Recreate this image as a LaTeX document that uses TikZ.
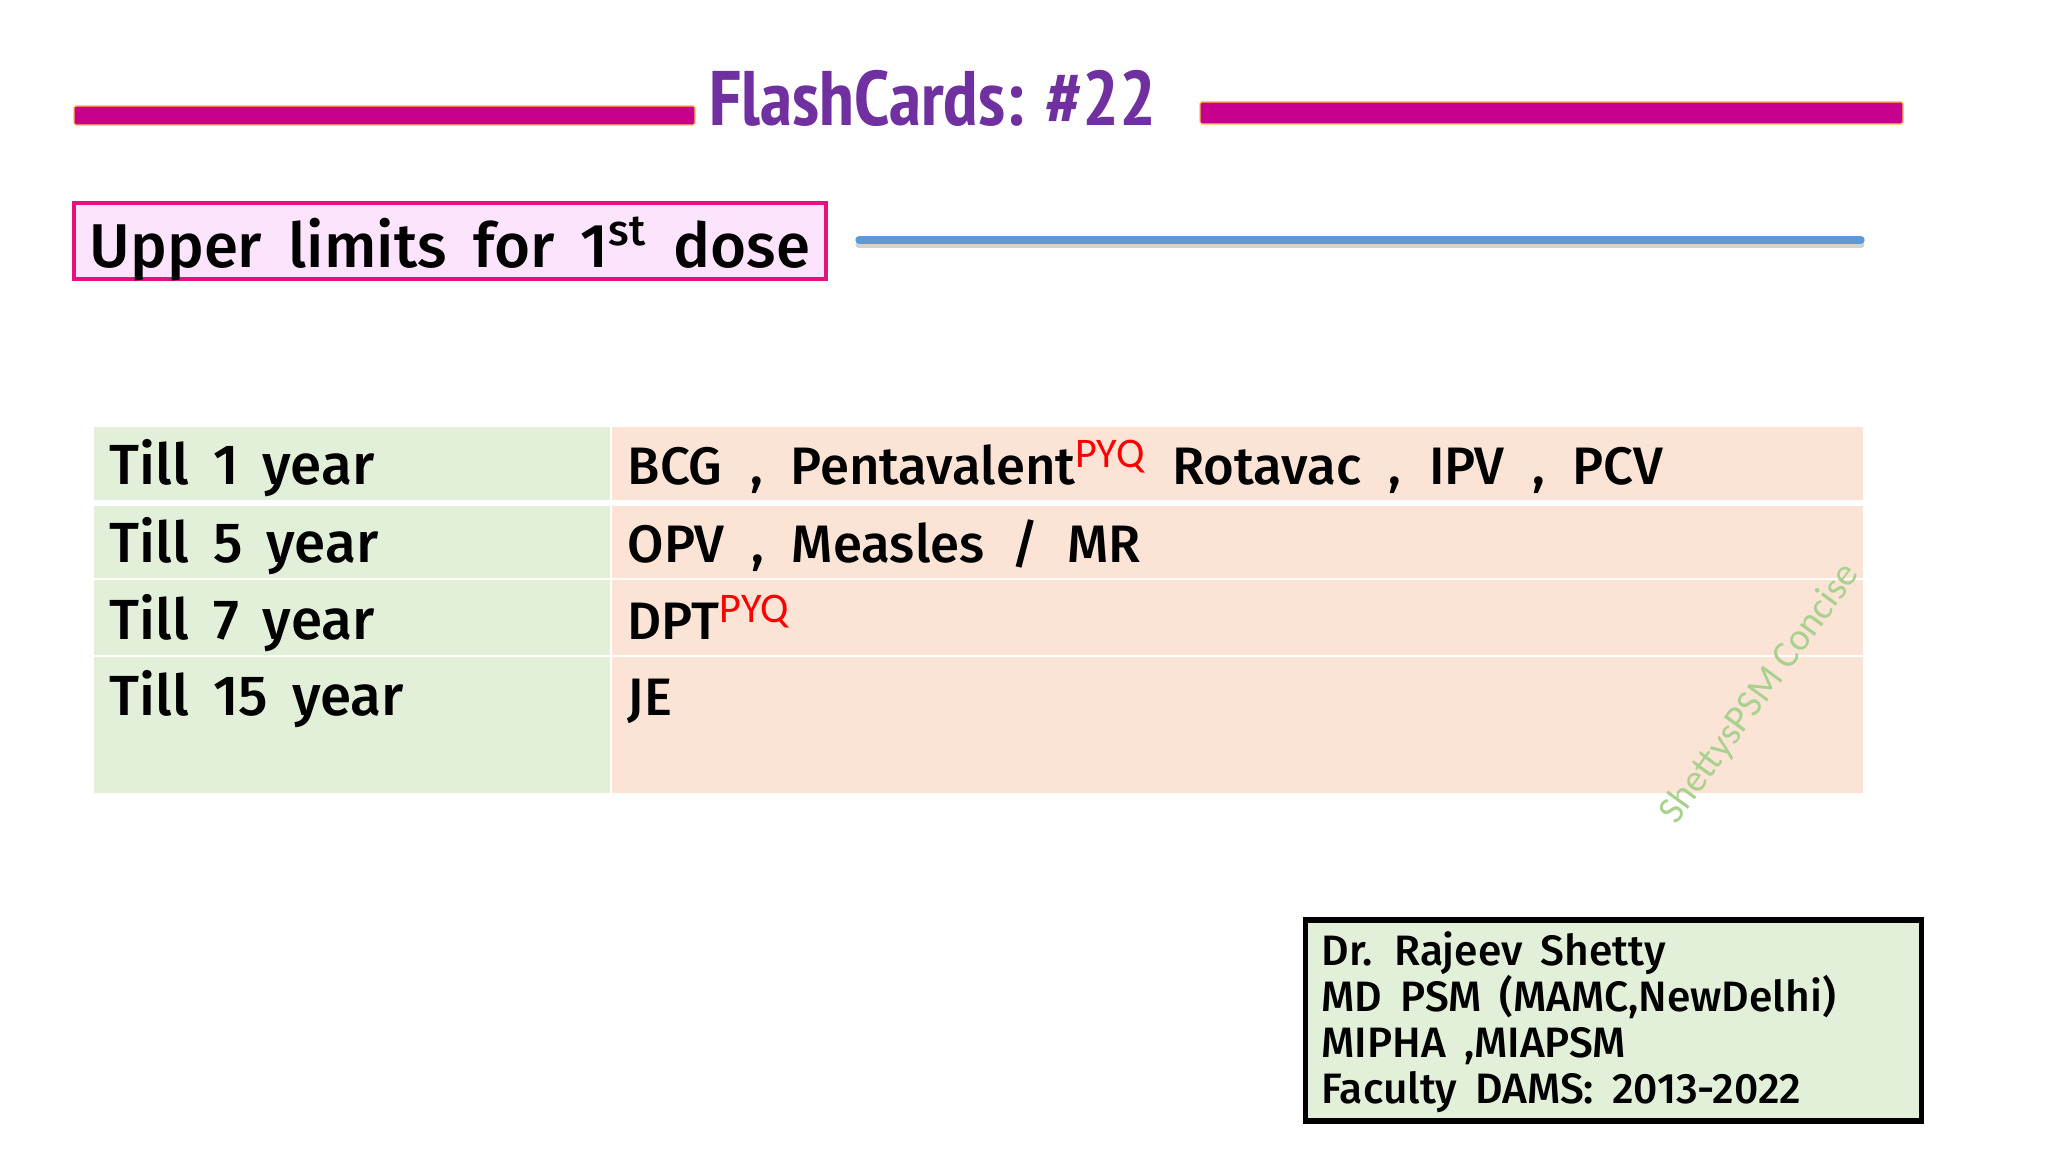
\documentclass[tikz,border=0pt]{standalone}
\usepackage{fontspec}
\usepackage{xcolor}
\setmainfont[WordSpace=1.7]{Fira Sans Medium}
\newfontfamily\titlefont{PT Sans Narrow Bold}
\newfontfamily\pyqfont{Carlito}
\newfontfamily\vacfont[WordSpace=2.1]{Fira Sans Medium}
\definecolor{barpink}{HTML}{C8008E}
\definecolor{baredge}{HTML}{FFC04D}
\definecolor{headpink}{HTML}{E6117F}
\definecolor{headfill}{HTML}{FCE4FC}
\definecolor{linkblue}{HTML}{5B9BD5}
\definecolor{cellgreen}{HTML}{E2EFD9}
\definecolor{cellpeach}{HTML}{FBE4D5}
\definecolor{titlepurple}{HTML}{7030A0}
\definecolor{markgreen}{HTML}{A9D18E}
\newcommand{\pyq}{\raisebox{5pt}{\pyqfont\fontsize{12}{14}\selectfont\color{red}PYQ}}
\tikzset{
  topbar/.style={fill=barpink, draw=baredge, line width=.3pt, rounded corners=.5pt},
  cell/.style={anchor=base west, font=\fontsize{16.1}{19}\selectfont, inner sep=0pt},
  vaccell/.style={anchor=base west, font=\vacfont\fontsize{15}{18}\selectfont, inner sep=0pt},
  credit/.style={anchor=base west, font=\fontsize{12.1}{14}\selectfont, inner sep=0pt},
}
\begin{document}
\begin{tikzpicture}
   \useasboundingbox (0,0) rectangle (20.48,11.52);
   % title row
   \draw[topbar] (0.74,10.27) rectangle (6.95,10.46);
   \draw[topbar] (12.00,10.28) rectangle (19.03,10.50);
   \node[text=titlepurple, font=\titlefont\fontsize{22}{26}\selectfont] (title) at (9.33,10.54) {FlashCards: \#22};

   % heading box
   \node[draw=headpink, fill=headfill, line width=.9pt, minimum width=7.52cm, minimum height=.76cm, inner sep=0pt] (head) at (4.50,9.11) {};
   \node[cell, font=\fontsize{17.6}{20}\selectfont] (headtext) at (0.89,8.84) {Upper limits for 1\textsuperscript{st} dose};
   \draw[gray!35, line width=2pt, line cap=round] (8.59,9.07) -- (18.61,9.07);
   \draw[linkblue, line width=2.1pt, line cap=round] (8.59,9.12) -- (18.61,9.12);

   % table
   \fill[cellgreen] (0.94,6.52) rectangle (6.10,7.25);
   \fill[cellgreen] (0.94,5.74) rectangle (6.10,6.46);
   \fill[cellgreen] (0.94,4.97) rectangle (6.10,5.72);
   \fill[cellgreen] (0.94,3.59) rectangle (6.10,4.95);
   \fill[cellpeach] (6.12,6.52) rectangle (18.63,7.25);
   \fill[cellpeach] (6.12,5.74) rectangle (18.63,6.46);
   \fill[cellpeach] (6.12,4.97) rectangle (18.63,5.72);
   \fill[cellpeach] (6.12,3.59) rectangle (18.63,4.95);

   \node[cell] (till1) at (1.09,6.67) {Till 1 year};
   \node[cell] (till5) at (1.09,5.89) {Till 5 year};
   \node[cell] (till7) at (1.09,5.12) {Till 7 year};
   \node[cell] (till15) at (1.09,4.36) {Till 15 year};
   \node[vaccell] (vac1) at (6.27,6.67) {BCG , Pentavalent\pyq{} Rotavac , IPV , PCV};
   \node[vaccell] (vac5) at (6.27,5.89) {OPV , Measles / MR};
   \node[vaccell] (vac7) at (6.27,5.12) {DPT\pyq};
   \node[vaccell] (vac15) at (6.27,4.36) {JE};

   \node[rotate=53.8, text=markgreen, font=\pyqfont\fontsize{10.9}{13}\selectfont] (mark) at (17.60,4.58) {ShettysPSM Concise};

   % credit box
   \node[draw=black, fill=cellgreen, line width=1.6pt, minimum width=6.16cm, minimum height=2.01cm, inner sep=0pt] (creditbox) at (16.135,1.315) {};
   \node[credit] (name) at (13.21,1.86) {Dr. Rajeev Shetty};
   \node[credit] (degree) at (13.21,1.40) {MD PSM (MAMC,NewDelhi)};
   \node[credit] (member) at (13.21,0.94) {MIPHA ,MIAPSM};
   \node[credit] (faculty) at (13.21,0.48) {Faculty DAMS: 2013-2022};
\end{tikzpicture}
\end{document}
